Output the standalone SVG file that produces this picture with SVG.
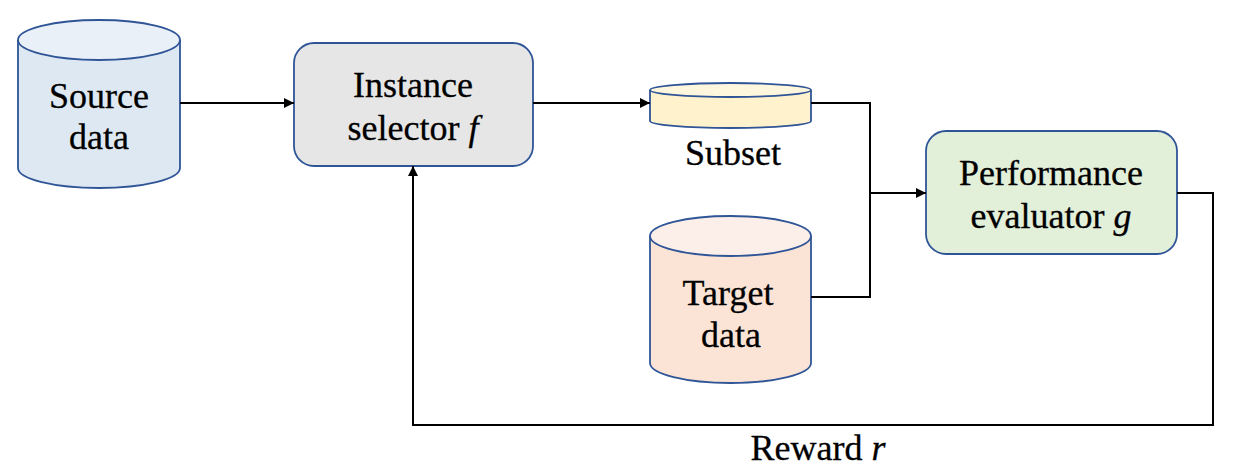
<svg xmlns="http://www.w3.org/2000/svg" width="1255" height="468" viewBox="0 0 1255 468">
<defs>
<marker id="arr" viewBox="0 0 10 10" refX="10" refY="5" markerWidth="10" markerHeight="10" markerUnits="userSpaceOnUse" orient="auto">
<path d="M0,0 L10,5 L0,10 z" fill="#000"/>
</marker>
<style>
.shape{stroke:#2F5597;stroke-width:1.8}
.t{font-family:"Liberation Serif","Times New Roman",serif;font-size:36px;fill:#000;stroke:#000;stroke-width:0.3;text-anchor:middle}
.i{font-style:italic}
.c{fill:none;stroke:#000;stroke-width:2}
</style>
</defs>
<rect width="1255" height="468" fill="#fff"/>
<g id="source">
<path class="shape" d="M18,40 L18,168 A81,20 0 0 0 180,168 L180,40" fill="#DEE8F3"/>
<ellipse class="shape" cx="99" cy="40" rx="81" ry="20" fill="#EAF0F8"/>
<text class="t" x="99" y="108">Source</text>
<text class="t" x="99" y="149">data</text>
</g>
<g id="selector">
<rect class="shape" x="294" y="43" width="239" height="123" rx="20" fill="#E6E6E6"/>
<text class="t" x="413" y="97">Instance</text>
<text class="t" x="413" y="140">selector <tspan class="i">f</tspan></text>
</g>
<g id="subset">
<path class="shape" d="M650,90 L650,121 A80.5,7 0 0 0 811,121 L811,90" fill="#FFF2CC"/>
<ellipse class="shape" cx="730.5" cy="90" rx="80.5" ry="7" fill="#FFF6DE"/>
<text class="t" x="733" y="165">Subset</text>
</g>
<g id="target">
<path class="shape" d="M650,236 L650,363 A80.5,20 0 0 0 811,363 L811,236" fill="#FBE4D6"/>
<ellipse class="shape" cx="730.5" cy="236" rx="80.5" ry="20" fill="#FCEFE9"/>
<text class="t" x="728" y="305">Target</text>
<text class="t" x="731" y="347">data</text>
</g>
<g id="evaluator">
<rect class="shape" x="926" y="131" width="251" height="123" rx="20" fill="#E2EFD9"/>
<text class="t" x="1051" y="185">Performance</text>
<text class="t" x="1051" y="228">evaluator <tspan class="i">g</tspan></text>
</g>
<g id="connectors">
<path class="c" d="M180,103 L294,103" marker-end="url(#arr)"/>
<path class="c" d="M533,103 L650,103" marker-end="url(#arr)"/>
<path class="c" d="M811,103 L870,103 L870,297 L811,297"/>
<path class="c" d="M870,193 L926,193" marker-end="url(#arr)"/>
<path class="c" d="M1177,193 L1213,193 L1213,425 L413,425 L413,166" marker-end="url(#arr)"/>
<text class="t" x="818" y="460">Reward <tspan class="i">r</tspan></text>
</g>
</svg>
